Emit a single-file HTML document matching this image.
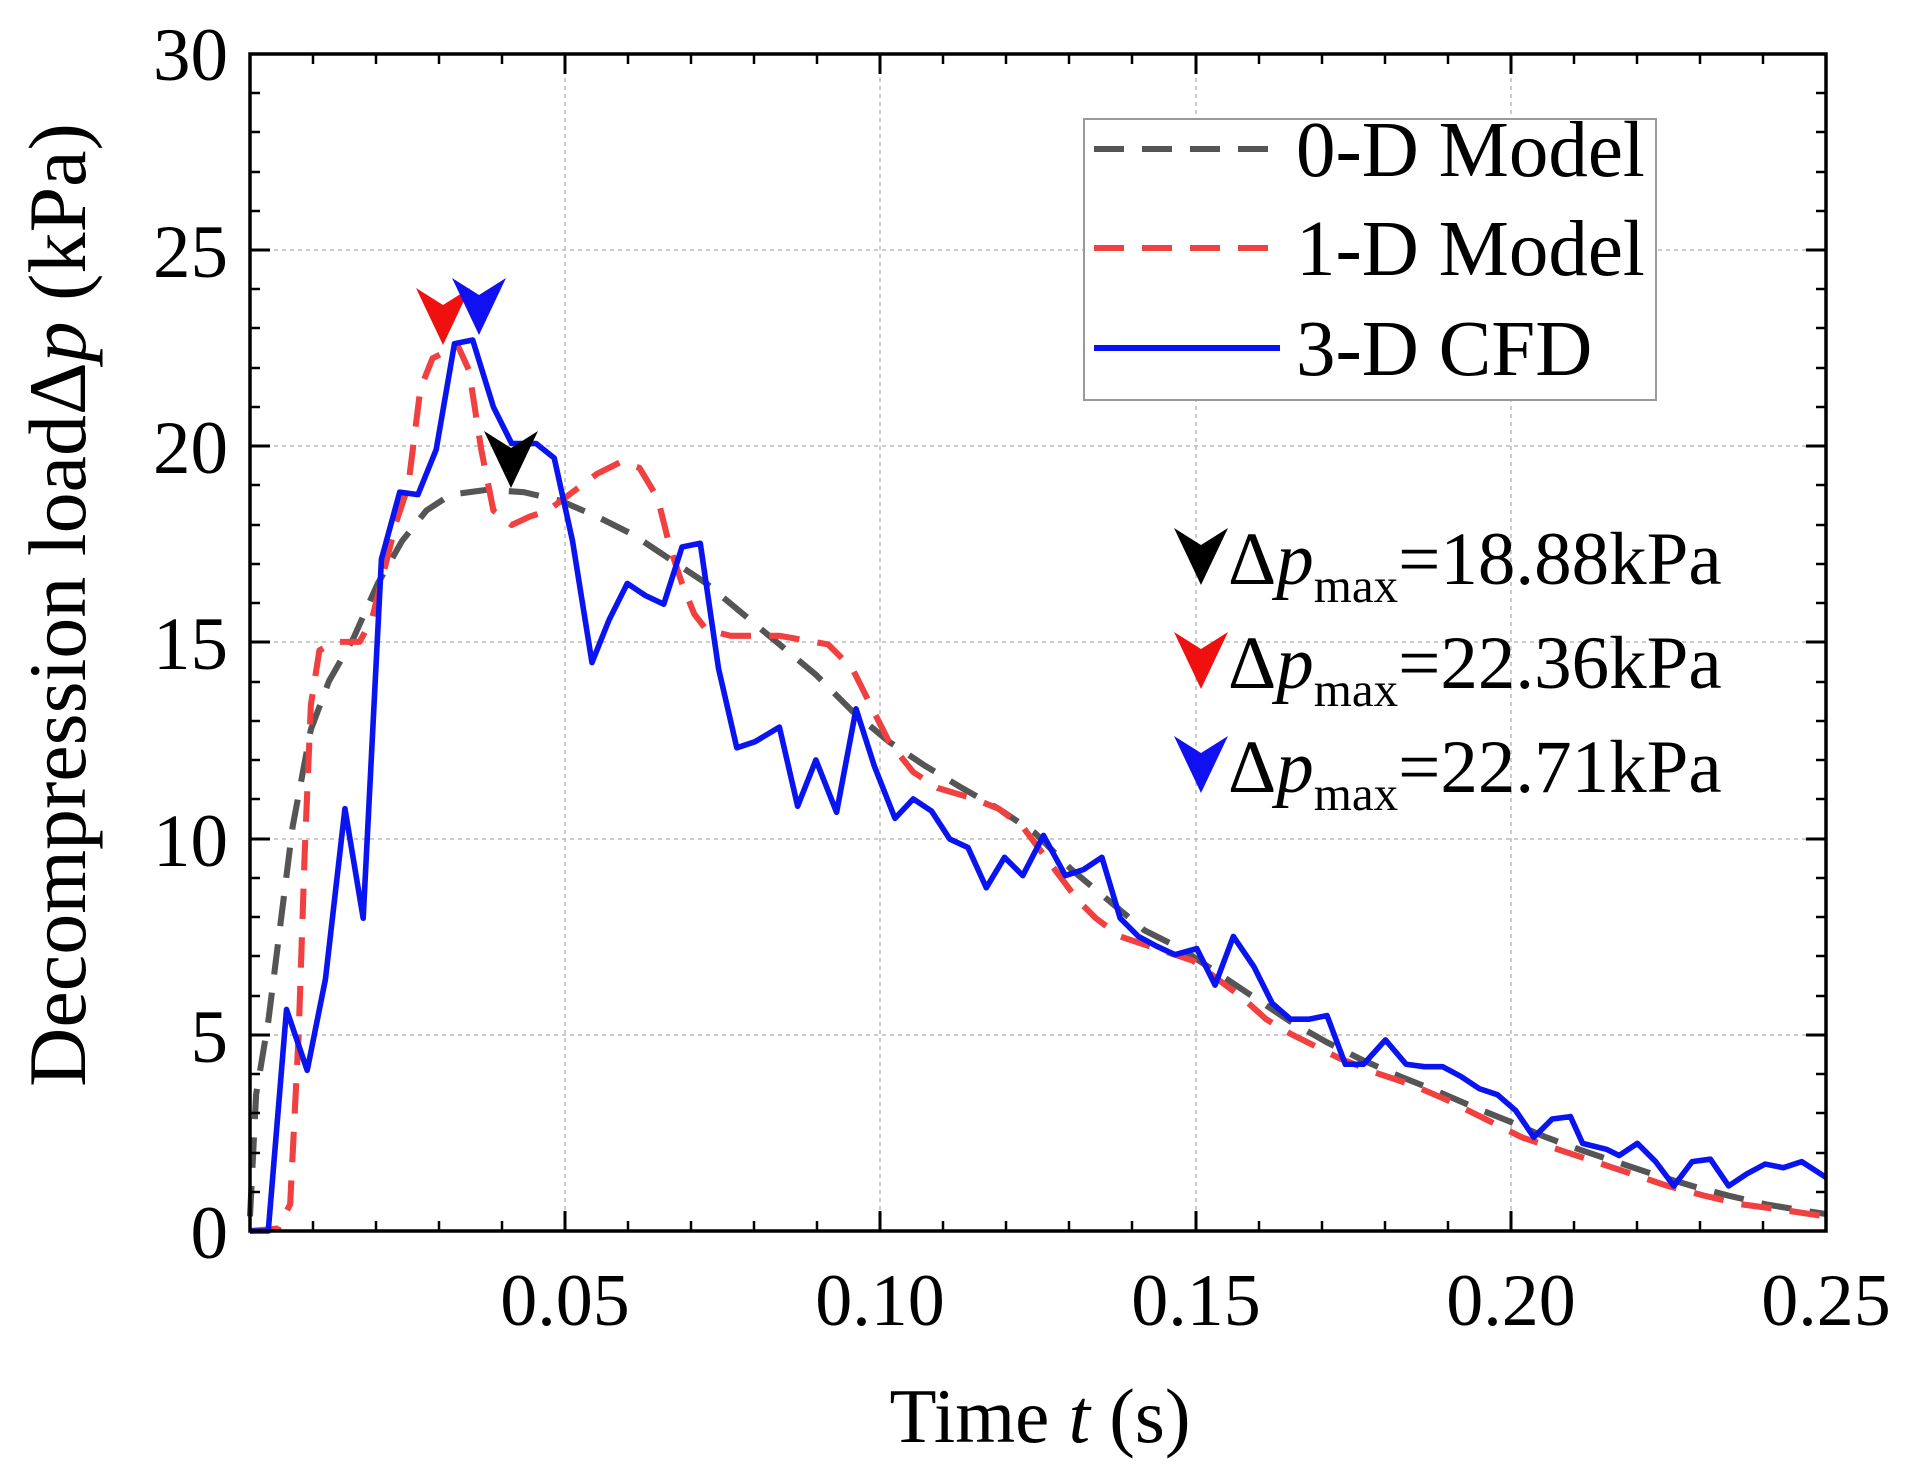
<!DOCTYPE html>
<html><head><meta charset="utf-8"><style>
html,body{margin:0;padding:0;background:#fff;}
svg{display:block;}
text{font-family:"Liberation Serif",serif;fill:#000;}
</style></head><body>
<svg width="1906" height="1469" viewBox="0 0 1906 1469" xmlns="http://www.w3.org/2000/svg">
<g stroke="#bbb" stroke-width="1.5" stroke-dasharray="4,4">
<line x1="565" y1="54" x2="565" y2="1231"/><line x1="880" y1="54" x2="880" y2="1231"/>
<line x1="1196" y1="54" x2="1196" y2="1231"/><line x1="1511" y1="54" x2="1511" y2="1231"/>
<line x1="250" y1="250" x2="1826" y2="250"/><line x1="250" y1="446" x2="1826" y2="446"/>
<line x1="250" y1="642" x2="1826" y2="642"/><line x1="250" y1="839" x2="1826" y2="839"/>
<line x1="250" y1="1035" x2="1826" y2="1035"/>
</g>
<g transform="translate(250 54) scale(1.21699 1.21717) translate(-205 -45)" fill="none" stroke-linejoin="round">
<polyline stroke="#555" stroke-width="5" stroke-dasharray="25,15" points="205,1000 210,900 220,840 230,760 240,680 255,600 270,560 290,525 310,480 330,445 350,420 370,407 400,403 430,405 460,412 490,425 520,440 550,460 580,480 610,505 640,530 670,555 700,585 730,610 760,630 790,648 820,665 850,685 880,715 910,740 940,765 970,780 1000,800 1030,820 1060,840 1090,857 1120,872 1150,885 1180,897 1210,910 1240,922 1270,935 1300,946 1330,956 1360,966 1390,975 1420,983 1450,990 1480,995 1500,998"/>
<polyline stroke="#f04040" stroke-width="5" stroke-dasharray="25,15" points="205,1012 228,1010 238,990 245,850 250,700 255,580 262,535 275,528 295,528 305,510 315,470 325,430 335,400 345,320 355,295 365,290 375,283 385,305 395,370 405,420 420,432 435,425 450,420 470,405 490,390 510,380 525,385 540,410 550,450 560,480 570,505 580,518 600,523 640,523 680,530 700,550 715,580 730,610 750,635 770,648 800,657 820,665 840,680 855,700 870,720 885,740 900,755 920,770 950,780 980,790 1000,805 1020,820 1040,838 1060,850 1080,860 1100,870 1130,882 1160,892 1190,905 1220,920 1250,935 1280,945 1310,955 1340,965 1370,975 1400,983 1430,990 1460,994 1500,1000"/>
<polyline stroke="#0a14f0" stroke-width="4.6" points="205,1012 220,1012 235,830 252,880 267,805 283,665 298,755 313,460 328,405 343,407 358,370 373,283 388,280 405,335 420,365 440,365 455,377 470,445 486,545 500,510 515,480 530,490 545,497 560,450 575,447 590,550 605,615 620,610 640,598 655,663 670,625 687,668 703,583 718,630 735,673 750,657 765,667 780,690 795,697 810,730 825,705 840,720 857,687 875,720 890,715 905,705 920,755 935,770 950,778 965,785 983,780 998,810 1013,770 1030,795 1045,825 1060,838 1075,838 1090,835 1105,875 1120,875 1138,855 1155,875 1170,877 1185,877 1200,885 1215,895 1230,900 1245,913 1260,935 1275,920 1290,918 1300,940 1320,945 1330,950 1345,940 1360,955 1375,975 1390,955 1405,953 1420,975 1435,965 1450,957 1465,960 1480,955 1500,968"/>
</g>
<defs><path id="mk" d="M-27,-27 L0,-10 L27,-27 L0,30 Z"/></defs>
<use href="#mk" x="443" y="315" fill="#f01010"/>
<use href="#mk" x="479" y="305" fill="#1010f0"/>
<use href="#mk" x="511" y="458" fill="#000"/>
<g stroke="#000" stroke-width="3.5" fill="none">
<rect x="250" y="54" width="1576" height="1177"/>
</g>
<g stroke="#000" stroke-width="3">
<path d="M565,1231v-20M880,1231v-20M1196,1231v-20M1511,1231v-20M565,54v20M880,54v20M1196,54v20M1511,54v20"/>
<path d="M250,1035h20M250,839h20M250,642h20M250,446h20M250,250h20M1826,1035h-20M1826,839h-20M1826,642h-20M1826,446h-20M1826,250h-20"/>
<path stroke-width="2.5" d="M313,1231v-10M376,1231v-10M439,1231v-10M502,1231v-10M628,1231v-10M691,1231v-10M754,1231v-10M817,1231v-10M943,1231v-10M1006,1231v-10M1069,1231v-10M1132,1231v-10M1259,1231v-10M1322,1231v-10M1385,1231v-10M1448,1231v-10M1574,1231v-10M1637,1231v-10M1700,1231v-10M1763,1231v-10
M313,54v10M376,54v10M439,54v10M502,54v10M628,54v10M691,54v10M754,54v10M817,54v10M943,54v10M1006,54v10M1069,54v10M1132,54v10M1259,54v10M1322,54v10M1385,54v10M1448,54v10M1574,54v10M1637,54v10M1700,54v10M1763,54v10"/>
<path stroke-width="2.5" d="M250,1192h10M250,1153h10M250,1113h10M250,1074h10M250,996h10M250,956h10M250,917h10M250,878h10M250,799h10M250,760h10M250,721h10M250,682h10M250,603h10M250,564h10M250,525h10M250,485h10M250,407h10M250,368h10M250,328h10M250,289h10M250,211h10M250,172h10M250,132h10M250,93h10
M1826,1192h-10M1826,1153h-10M1826,1113h-10M1826,1074h-10M1826,996h-10M1826,956h-10M1826,917h-10M1826,878h-10M1826,799h-10M1826,760h-10M1826,721h-10M1826,682h-10M1826,603h-10M1826,564h-10M1826,525h-10M1826,485h-10M1826,407h-10M1826,368h-10M1826,328h-10M1826,289h-10M1826,211h-10M1826,172h-10M1826,132h-10M1826,93h-10"/>
</g>
<g font-size="75" text-anchor="end">
<text x="228" y="1258">0</text><text x="228" y="1062">5</text><text x="228" y="866">10</text>
<text x="228" y="669">15</text><text x="228" y="473">20</text><text x="228" y="277">25</text><text x="228" y="80">30</text>
</g>
<g font-size="74" text-anchor="middle">
<text x="565" y="1325">0.05</text><text x="880" y="1325">0.10</text><text x="1196" y="1325">0.15</text>
<text x="1511" y="1325">0.20</text><text x="1826" y="1325">0.25</text>
</g>
<text x="1040" y="1442" font-size="77" text-anchor="middle">Time <tspan font-style="italic">t</tspan> (s)</text>
<text transform="translate(85 605) rotate(-90)" font-size="82" text-anchor="middle">Decompression load<tspan>Δ</tspan><tspan font-style="italic">p</tspan> (kPa)</text>
<rect x="1084" y="119" width="572" height="281" fill="#fff" stroke="#999" stroke-width="2"/>
<line x1="1094" y1="149" x2="1280" y2="149" stroke="#555" stroke-width="6" stroke-dasharray="30,18"/>
<line x1="1094" y1="248" x2="1280" y2="248" stroke="#f04040" stroke-width="6" stroke-dasharray="30,18"/>
<line x1="1094" y1="348" x2="1280" y2="348" stroke="#0a14f0" stroke-width="6"/>
<g font-size="79">
<text x="1296" y="176">0-D Model</text><text x="1296" y="275">1-D Model</text><text x="1296" y="375">3-D CFD</text>
</g>
<use href="#mk" x="1201" y="555" fill="#000"/>
<use href="#mk" x="1201" y="659" fill="#f01010"/>
<use href="#mk" x="1201" y="763" fill="#1010f0"/>
<g font-size="75">
<text x="1228" y="584">Δ<tspan font-style="italic">p</tspan><tspan font-size="49" dy="18">max</tspan><tspan dy="-18">=18.88kPa</tspan></text>
<text x="1228" y="688">Δ<tspan font-style="italic">p</tspan><tspan font-size="49" dy="18">max</tspan><tspan dy="-18">=22.36kPa</tspan></text>
<text x="1228" y="792">Δ<tspan font-style="italic">p</tspan><tspan font-size="49" dy="18">max</tspan><tspan dy="-18">=22.71kPa</tspan></text>
</g>
</svg>
</body></html>
